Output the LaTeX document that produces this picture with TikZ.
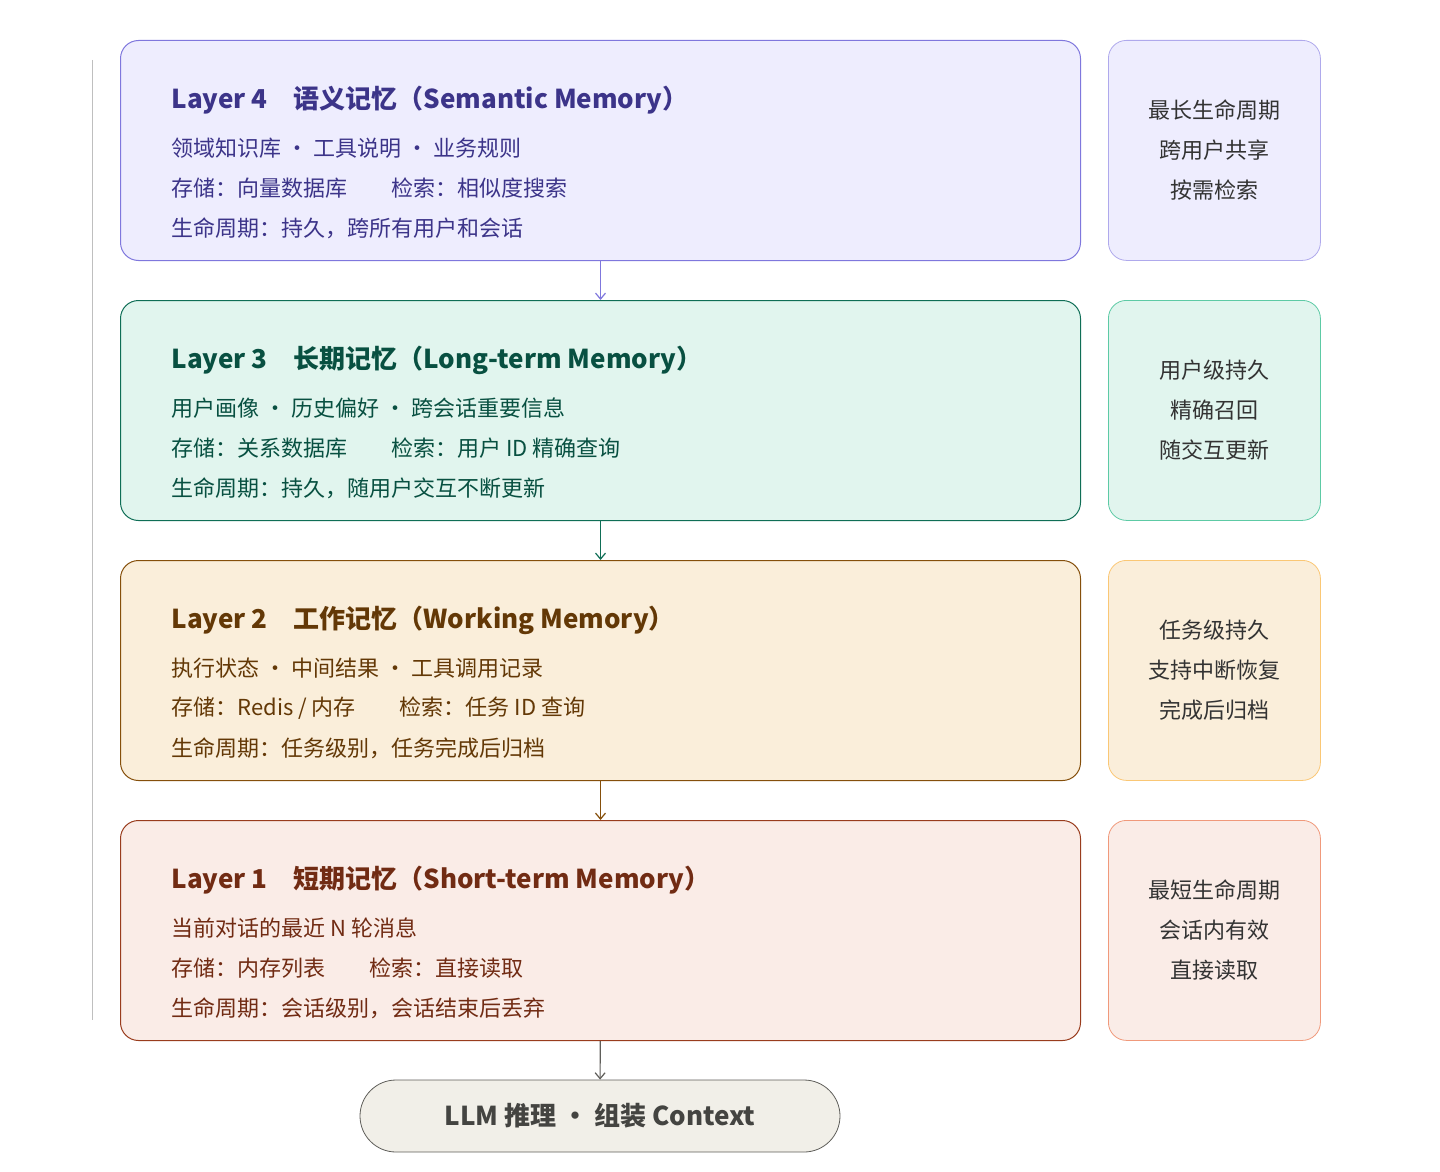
\documentclass[tikz,border=0pt]{standalone}
\usepackage{fontspec}
\setmainfont{Noto Sans CJK SC}
\usepackage{xcolor}
\usetikzlibrary{arrows.meta, positioning}

\definecolor{semfill}{HTML}{EEEDFE}\definecolor{semline}{HTML}{7F77DD}\definecolor{semtext}{HTML}{3C3489}\definecolor{semside}{HTML}{AFA9EC}
\definecolor{ltmfill}{HTML}{E1F5EE}\definecolor{ltmline}{HTML}{0F6E56}\definecolor{ltmtext}{HTML}{085041}\definecolor{ltmside}{HTML}{5DCAA5}
\definecolor{wrkfill}{HTML}{FAEEDA}\definecolor{wrkline}{HTML}{854F0B}\definecolor{wrktext}{HTML}{633806}\definecolor{wrkside}{HTML}{FAC775}
\definecolor{stmfill}{HTML}{FAECE7}\definecolor{stmline}{HTML}{993C1D}\definecolor{stmtext}{HTML}{712B13}\definecolor{stmside}{HTML}{F0997B}
\definecolor{llmfill}{HTML}{F1EFE8}\definecolor{llmline}{HTML}{5F5E5A}\definecolor{llmtext}{HTML}{444441}

\begin{document}
\begin{tikzpicture}[
    x=1pt, y=-1pt,
    layerbox/.style={rectangle, rounded corners=18pt, line width=1pt, minimum width=960pt, minimum height=220pt, anchor=north west},
    sidebox/.style={rectangle, rounded corners=18pt, line width=0.8pt, minimum width=212pt, minimum height=220pt, anchor=north west, align=center, font=\fontsize{22pt}{40pt}\selectfont, text=black!80},
    title/.style={anchor=west, font=\fontsize{26pt}{30pt}\selectfont\bfseries},
    info/.style={anchor=west, font=\fontsize{22pt}{26pt}\selectfont},
    arrow/.style={-{Straight Barb[length=6pt,width=10pt]}, line width=1.2pt}
]
\useasboundingbox (0,0) rectangle (1440,1172);
\draw[black!25, line width=1pt] (92,60) -- (92,1020);

% Layer 4
\node[layerbox, draw=semline, fill=semfill] (sem) at (120,40) {};
\node[title, text=semtext] (semtitle) at (168,100) {Layer 4\hspace{1em}语义记忆（Semantic Memory）};
\node[info, text=semtext] (sema) at (168,148) {领域知识库 · 工具说明 · 业务规则};
\node[info, text=semtext] (semb) at (168,188) {存储：向量数据库\hspace{2em}检索：相似度搜索};
\node[info, text=semtext] (semc) at (168,228) {生命周期：持久，跨所有用户和会话};
\node[sidebox, draw=semside, fill=semfill] (semnote) at (1108,40) {最长生命周期\\跨用户共享\\按需检索};

% Layer 3
\node[layerbox, draw=ltmline, fill=ltmfill] (ltm) at (120,300) {};
\node[title, text=ltmtext] (ltmtitle) at (168,360) {Layer 3\hspace{1em}长期记忆（Long-term Memory）};
\node[info, text=ltmtext] (ltma) at (168,408) {用户画像 · 历史偏好 · 跨会话重要信息};
\node[info, text=ltmtext] (ltmb) at (168,448) {存储：关系数据库\hspace{2em}检索：用户 ID 精确查询};
\node[info, text=ltmtext] (ltmc) at (168,488) {生命周期：持久，随用户交互不断更新};
\node[sidebox, draw=ltmside, fill=ltmfill] (ltmnote) at (1108,300) {用户级持久\\精确召回\\随交互更新};

% Layer 2
\node[layerbox, draw=wrkline, fill=wrkfill] (wrk) at (120,560) {};
\node[title, text=wrktext] (wrktitle) at (168,620) {Layer 2\hspace{1em}工作记忆（Working Memory）};
\node[info, text=wrktext] (wrka) at (168,668) {执行状态 · 中间结果 · 工具调用记录};
\node[info, text=wrktext] (wrkb) at (168,708) {存储：Redis / 内存\hspace{2em}检索：任务 ID 查询};
\node[info, text=wrktext] (wrkc) at (168,748) {生命周期：任务级别，任务完成后归档};
\node[sidebox, draw=wrkside, fill=wrkfill] (wrknote) at (1108,560) {任务级持久\\支持中断恢复\\完成后归档};

% Layer 1
\node[layerbox, draw=stmline, fill=stmfill] (stm) at (120,820) {};
\node[title, text=stmtext] (stmtitle) at (168,880) {Layer 1\hspace{1em}短期记忆（Short-term Memory）};
\node[info, text=stmtext] (stma) at (168,928) {当前对话的最近 N 轮消息};
\node[info, text=stmtext] (stmb) at (168,968) {存储：内存列表\hspace{2em}检索：直接读取};
\node[info, text=stmtext] (stmc) at (168,1008) {生命周期：会话级别，会话结束后丢弃};
\node[sidebox, draw=stmside, fill=stmfill] (stmnote) at (1108,820) {最短生命周期\\会话内有效\\直接读取};

% LLM
\node[rectangle, rounded corners=36pt, draw=llmline, fill=llmfill, line width=0.8pt, minimum width=480pt, minimum height=72pt, text=llmtext, font=\fontsize{26pt}{30pt}\selectfont\bfseries] (llm) at (600,1116) {LLM 推理 · 组装 Context};

\draw[arrow, semline] (sem) -- (ltm);
\draw[arrow, ltmline] (ltm) -- (wrk);
\draw[arrow, wrkline] (wrk) -- (stm);
\draw[arrow, llmline] (stm) -- (llm);
\end{tikzpicture}
\end{document}
